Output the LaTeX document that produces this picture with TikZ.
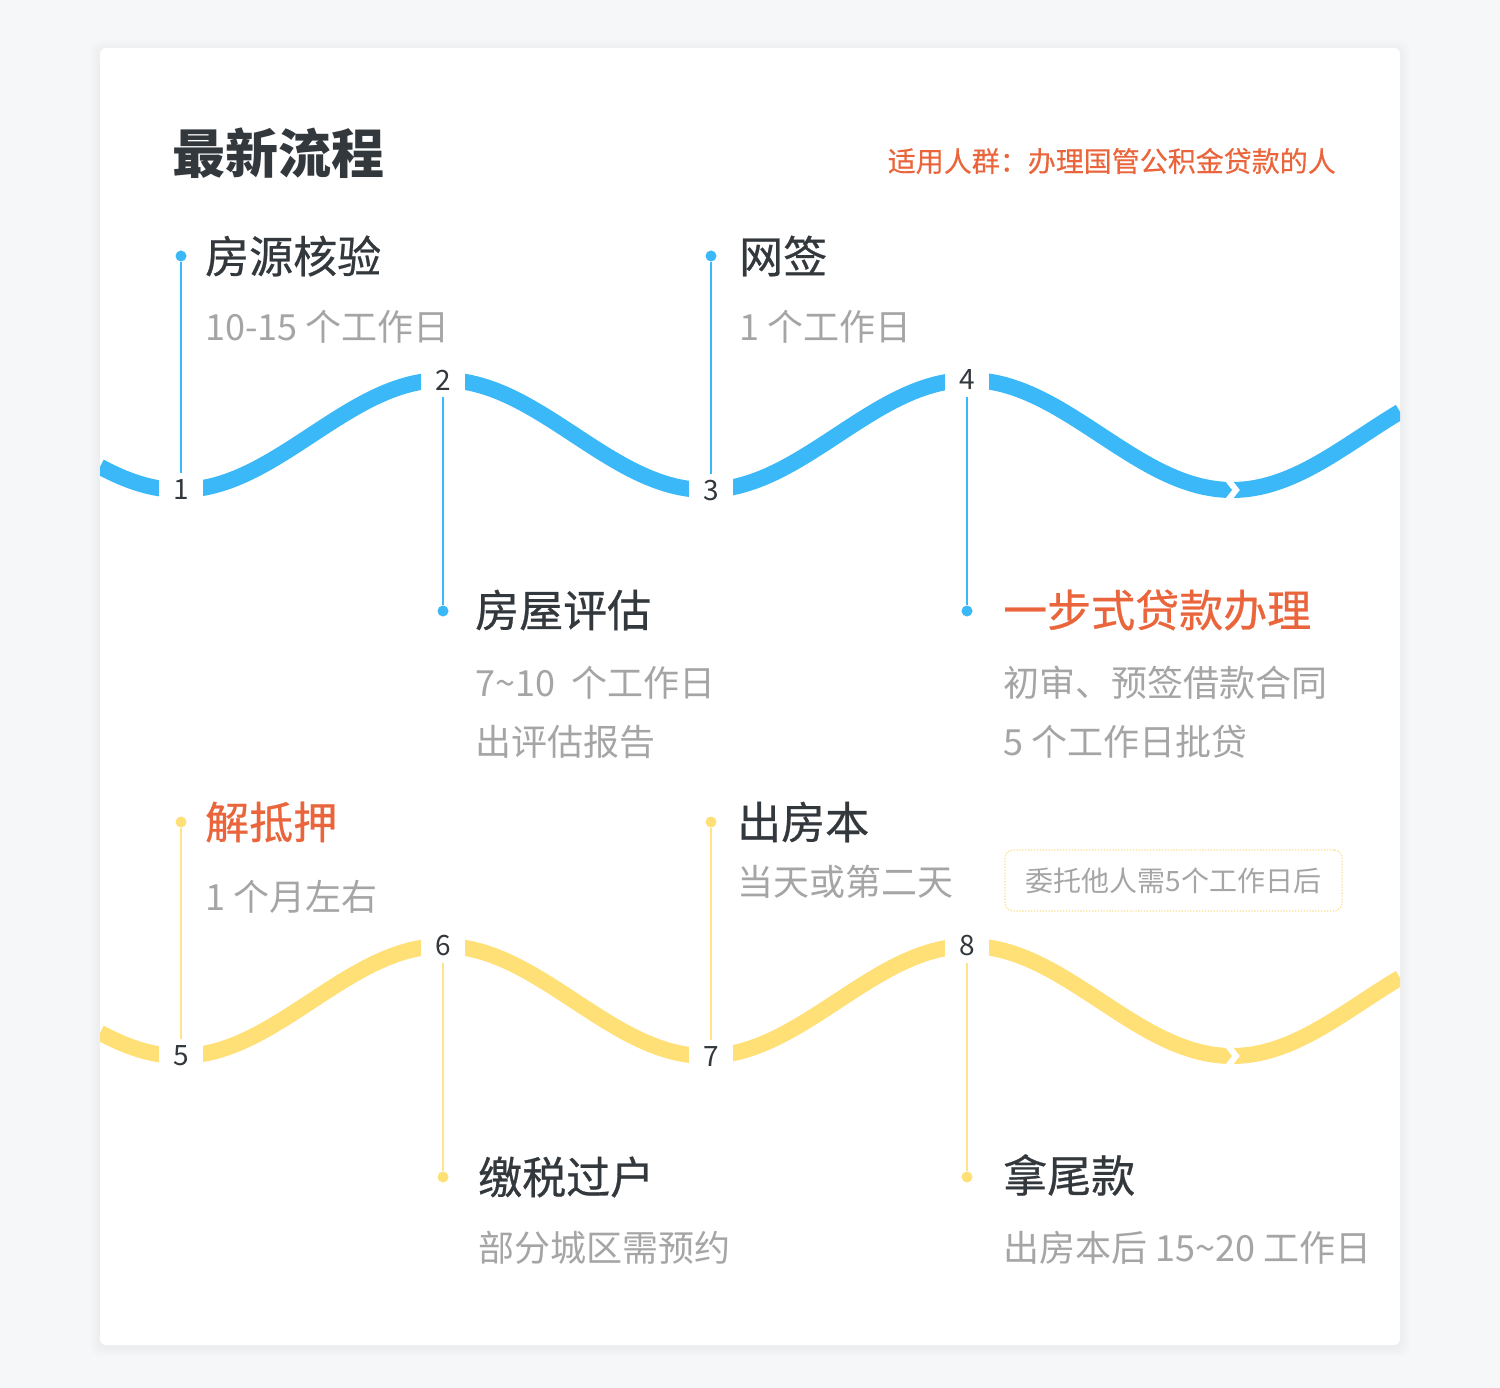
\documentclass[tikz,border=0pt]{standalone}
\usepackage{fontspec}
\setmainfont{Noto Sans CJK SC}
\newfontfamily\cjkmed[FakeBold=0.6]{Noto Sans CJK SC}
\newfontfamily\cjksemi[FakeBold=0.35]{Noto Sans CJK SC}
\definecolor{bgc}{HTML}{F6F7F9}
\definecolor{bluec}{HTML}{3BB8F8}
\definecolor{yelc}{HTML}{FFE077}
\definecolor{yline}{HTML}{FFE38A}
\definecolor{orc}{HTML}{EA653B}
\definecolor{darkc}{HTML}{33383D}
\definecolor{grayc}{HTML}{A5A5A5}
\definecolor{boxc}{HTML}{FBE18F}
\tikzset{
  wave/.style={line width=16pt},
  num/.style={fill=white, inner sep=0pt, minimum width=44pt, minimum height=34pt, text=darkc, font=\fontsize{28}{28}\selectfont},
  bdot/.style={circle, fill=bluec, inner sep=0pt, minimum size=11pt},
  ydot/.style={circle, fill=yelc, inner sep=0pt, minimum size=11pt},
  bline/.style={draw=bluec, line width=1.2pt},
  yline/.style={draw=yline, line width=1.2pt},
  head/.style={anchor=west, inner sep=0pt, text=darkc, font=\cjkmed\fontsize{44}{44}\selectfont},
  ohead/.style={head, text=orc},
  sub/.style={anchor=west, inner sep=0pt, text=grayc, font=\fontsize{36}{36}\selectfont},
  notch/.style={draw=white, line width=6pt}
}
\begin{document}
\begin{tikzpicture}[x=1pt,y=-1pt]
\useasboundingbox (0,0) rectangle (1500,1388);
\fill[bgc] (0,0) rectangle (1500,1388);
% card shadow
\foreach \i in {1,...,10}
  \fill[black, opacity=0.005, rounded corners=10pt] (100-\i,50-\i) rectangle (1400+\i,1347+\i);
\fill[white, rounded corners=6pt] (100,48) rectangle (1400,1345);

% title
\node[anchor=west, inner sep=0pt, text=darkc, font=\bfseries\fontsize{53}{53}\selectfont] (title) at (172,153) {最新流程};
\node[anchor=east, inner sep=0pt, text=orc, font=\cjksemi\fontsize{28}{28}\selectfont] (sub) at (1336,161) {适用人群：办理国管公积金贷款的人};

% waves
\begin{scope}
\clip (100,48) rectangle (1400,1345);
\draw[wave, bluec] plot[domain=100:1400, samples=260] (\x, {435+55*cos(0.684411*(\x-180))});
\draw[wave, yelc] plot[domain=100:1400, samples=260] (\x, {1001+55*cos(0.684411*(\x-180))});
\end{scope}
\draw[notch] (1225,476) -- (1236,490) -- (1225,504);
\draw[notch] (1225,1042) -- (1236,1056) -- (1225,1070);

% number gaps
\node[num] (n1) at (181,490) {1};
\node[num] (n2) at (443,380) {2};
\node[num] (n3) at (711,491) {3};
\node[num] (n4) at (967,380) {4};
\node[num] (n5) at (181,1056) {5};
\node[num] (n6) at (443,946) {6};
\node[num] (n7) at (711,1057) {7};
\node[num] (n8) at (967,946) {8};

% dots
\node[bdot] (d1) at (181,256) {};
\node[bdot] (d2) at (443,611) {};
\node[bdot] (d3) at (711,256) {};
\node[bdot] (d4) at (967,611) {};
\node[ydot] (d5) at (181,822) {};
\node[ydot] (d6) at (443,1177) {};
\node[ydot] (d7) at (711,822) {};
\node[ydot] (d8) at (967,1177) {};

% connectors
\draw[bline] (d1) -- (n1);
\draw[bline] (n2) -- (d2);
\draw[bline] (d3) -- (n3);
\draw[bline] (n4) -- (d4);
\draw[yline] (d5) -- (n5);
\draw[yline] (n6) -- (d6);
\draw[yline] (d7) -- (n7);
\draw[yline] (n8) -- (d8);

% texts top
\node[head] (h1) at (205,256) {房源核验};
\node[sub] (s1) at (205,327) {10-15 个工作日};
\node[head] (h3) at (739,256) {网签};
\node[sub] (s3) at (739,327) {1 个工作日};
\node[head] (h2) at (475,610) {房屋评估};
\node[sub] (s2a) at (475,683) {7\textasciitilde10\ \ 个工作日};
\node[sub] (s2b) at (475,742) {出评估报告};
\node[ohead] (h4) at (1003,610) {一步式贷款办理};
\node[sub] (s4a) at (1003,683) {初审、预签借款合同};
\node[sub] (s4b) at (1003,742) {5 个工作日批贷};

% texts bottom
\node[ohead] (h5) at (205,822) {解抵押};
\node[sub] (s5) at (205,897) {1 个月左右};
\node[head] (h7) at (737,822) {出房本};
\node[sub] (s7) at (737,882) {当天或第二天};
\node[draw=boxc, line width=1.3pt, dash pattern=on 1.3pt off 1.6pt, rounded corners=8pt, minimum width=337pt, minimum height=61pt, inner sep=0pt, text=grayc, font=\fontsize{28}{28}\selectfont] (box) at (1173.5,880.5) {委托他人需5个工作日后};
\node[head] (h6) at (478,1177) {缴税过户};
\node[sub] (s6) at (478,1248) {部分城区需预约};
\node[head] (h8) at (1003,1175) {拿尾款};
\node[sub] (s8) at (1003,1248) {出房本后 15\textasciitilde20 工作日};
\end{tikzpicture}
\end{document}
